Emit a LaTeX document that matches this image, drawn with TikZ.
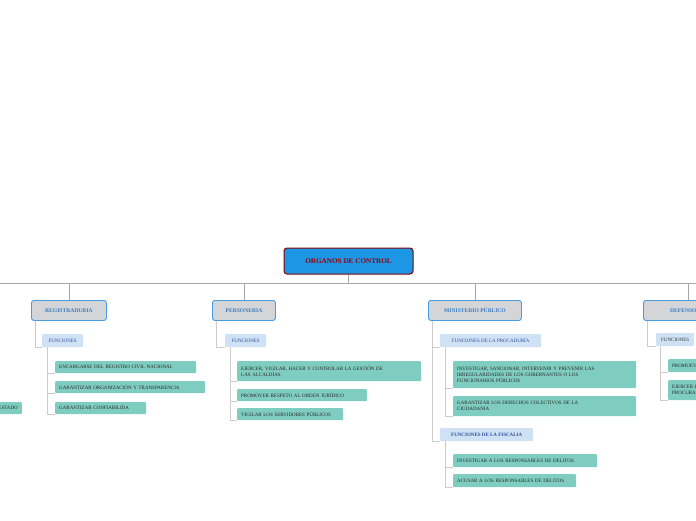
\documentclass[tikz,border=0pt]{standalone}
\usepackage{fontspec}
\setmainfont{Liberation Serif}
\begin{document}
\begin{tikzpicture}[x=1pt,y=-1pt,
  every node/.style={font=\fontsize{5}{6}\selectfont},
  main/.style={draw=mainb, line width=0.9pt, fill=mainf, rounded corners=2.5pt, text=maint, anchor=north west, inner sep=0pt, font=\fontsize{5.6}{6.5}\selectfont\bfseries},
  sub/.style={fill=subf, text=subt, rounded corners=1pt, anchor=north west, inner sep=0pt},
  leaf/.style={fill=leafc, rounded corners=1pt, anchor=north west, inner xsep=4pt, inner ysep=0pt, align=left, text=black!85},
  conn/.style={draw=gray!40, line width=0.8pt},
  top/.style={draw=gray!70, line width=0.8pt}]
\definecolor{leafc}{HTML}{7FCDC0}
\definecolor{mainb}{HTML}{4A9BE0}
\definecolor{mainf}{HTML}{D3D5D8}
\definecolor{maint}{HTML}{3A7DC0}
\definecolor{subf}{HTML}{CFE2F5}
\definecolor{subt}{HTML}{2E4E9A}
\useasboundingbox (0,0) rectangle (696,520);
\clip (0,0) rectangle (696,520);
\node[draw=red!50!black, line width=1pt, fill={rgb,255:red,30;green,150;blue,230}, rounded corners=3pt, text=red!60!black, font=\fontsize{7.2}{8}\selectfont\bfseries, minimum width=129, minimum height=26, inner sep=0pt] (root) at (348.5,261) {ORGANOS DE CONTROL};
% mains
\node[main, minimum width=75, minimum height=20] (reg) at (31,300) {REGISTRADURIA};
\node[main, minimum width=63, minimum height=20] (per) at (212,300) {PERSONERIA};
\node[main, minimum width=93, minimum height=20] (min) at (428,300) {MINISTERIO PÚBLICO};
\node[main, minimum width=90, minimum height=20] (def) at (643,300) {DEFENSORIA};
\coordinate (L) at (0,283); \coordinate (R) at (696,283);
\draw[top] (L) -- (R);
\draw[top] (root.south) -- ++(0,9);
\foreach \n in {reg,per,min,def} \draw[top] (\n.north) -- (\n.north |- L);
% registraduria
\node[sub, minimum width=41, minimum height=13] (regf) at (42,334) {FUNCIONES};
\draw[conn] ([xshift=4]reg.south west) |- (regf.south west);
\node[leaf, minimum height=12, text width=133] (r1) at (55,361) {ENCARGARSE DEL REGISTRO CIVIL NACIONAL};
\node[leaf, minimum height=12, text width=142] (r2) at (55,381) {GARANTIZAR ORGANIZACIÓN Y TRANSPARENCIA};
\node[leaf, minimum height=12, text width=83] (r3) at (55,402) {GARANTIZAR CONFIABILIDA};
\foreach \n in {r1,r2,r3} \draw[conn] ([xshift=5]regf.south west) |- (\n.south west);
\node[leaf, minimum height=12, anchor=north east] (est) at (22,402) {DEL ESTADO};
% personeria
\node[sub, minimum width=41, minimum height=13] (perf) at (225,334) {FUNCIONES};
\draw[conn] ([xshift=4]per.south west) |- (perf.south west);
\node[leaf, minimum height=20, text width=176] (p1) at (237,361) {EJERCER, VIGILAR, HACER Y CONTROLAR LA GESTIÓN DE\\LAS ALCALDÍAS};
\node[leaf, minimum height=12, text width=122] (p2) at (237,389) {PROMOVER RESPETO AL ORDEN JURÍDICO};
\node[leaf, minimum height=12, text width=98] (p3) at (237,408) {VIGILAR LOS SERVIDORES PÚBLICOS};
\foreach \n in {p1,p2,p3} \draw[conn] ([xshift=5]perf.south west) |- (\n.south west);
% ministerio
\node[sub, minimum width=101, minimum height=13] (mf1) at (440,334) {FUNCIONES DE LA PROCADURÍA};
\node[sub, minimum width=93, minimum height=13, font=\fontsize{5}{6}\selectfont\bfseries] (mf2) at (440,428) {FUNCIONES DE LA FISCALIA};
\foreach \n in {mf1,mf2} \draw[conn] ([xshift=4]min.south west) |- (\n.south west);
\node[leaf, minimum height=27, text width=175] (m1) at (453,361) {INVESTIGAR, SANCIONAR, INTERVENIR Y PREVENIR LAS\\IRREGULARIDADES DE LOS GOBERNANTES O LOS\\FUNCIONARIOS PÚBLICOS};
\node[leaf, minimum height=20, text width=175] (m2) at (453,396) {GARANTIZAR LOS DERECHOS COLECTIVOS DE LA\\CIUDADANIA};
\foreach \n in {m1,m2} \draw[conn] ([xshift=5]mf1.south west) |- (\n.south west);
\node[leaf, minimum height=13, text width=136] (m3) at (453,454) {INVESTIGAR A LOS RESPONSABLES DE DELITOS};
\node[leaf, minimum height=13, text width=115] (m4) at (453,474) {ACUSAR A LOS RESPONSABLES DE DELITOS};
\foreach \n in {m3,m4} \draw[conn] ([xshift=5]mf2.south west) |- (\n.south west);
% defensoria
\node[sub, minimum width=38, minimum height=13, text=black!80] (df) at (656,333) {FUNCIONES};
\draw[conn] ([xshift=4]def.south west) |- (df.south west);
\node[leaf, minimum height=13, text width=120] (d1) at (668,359) {PROMUEVE LOS DERECHOS HUMANOS};
\node[leaf, minimum height=20, text width=120] (d2) at (668,380) {EJERCER LA DEFENSA Y\\PROCURAR LOS DERECHOS};
\foreach \n in {d1,d2} \draw[conn] ([xshift=4]df.south west) |- (\n.south west);
\end{tikzpicture}
\end{document}
